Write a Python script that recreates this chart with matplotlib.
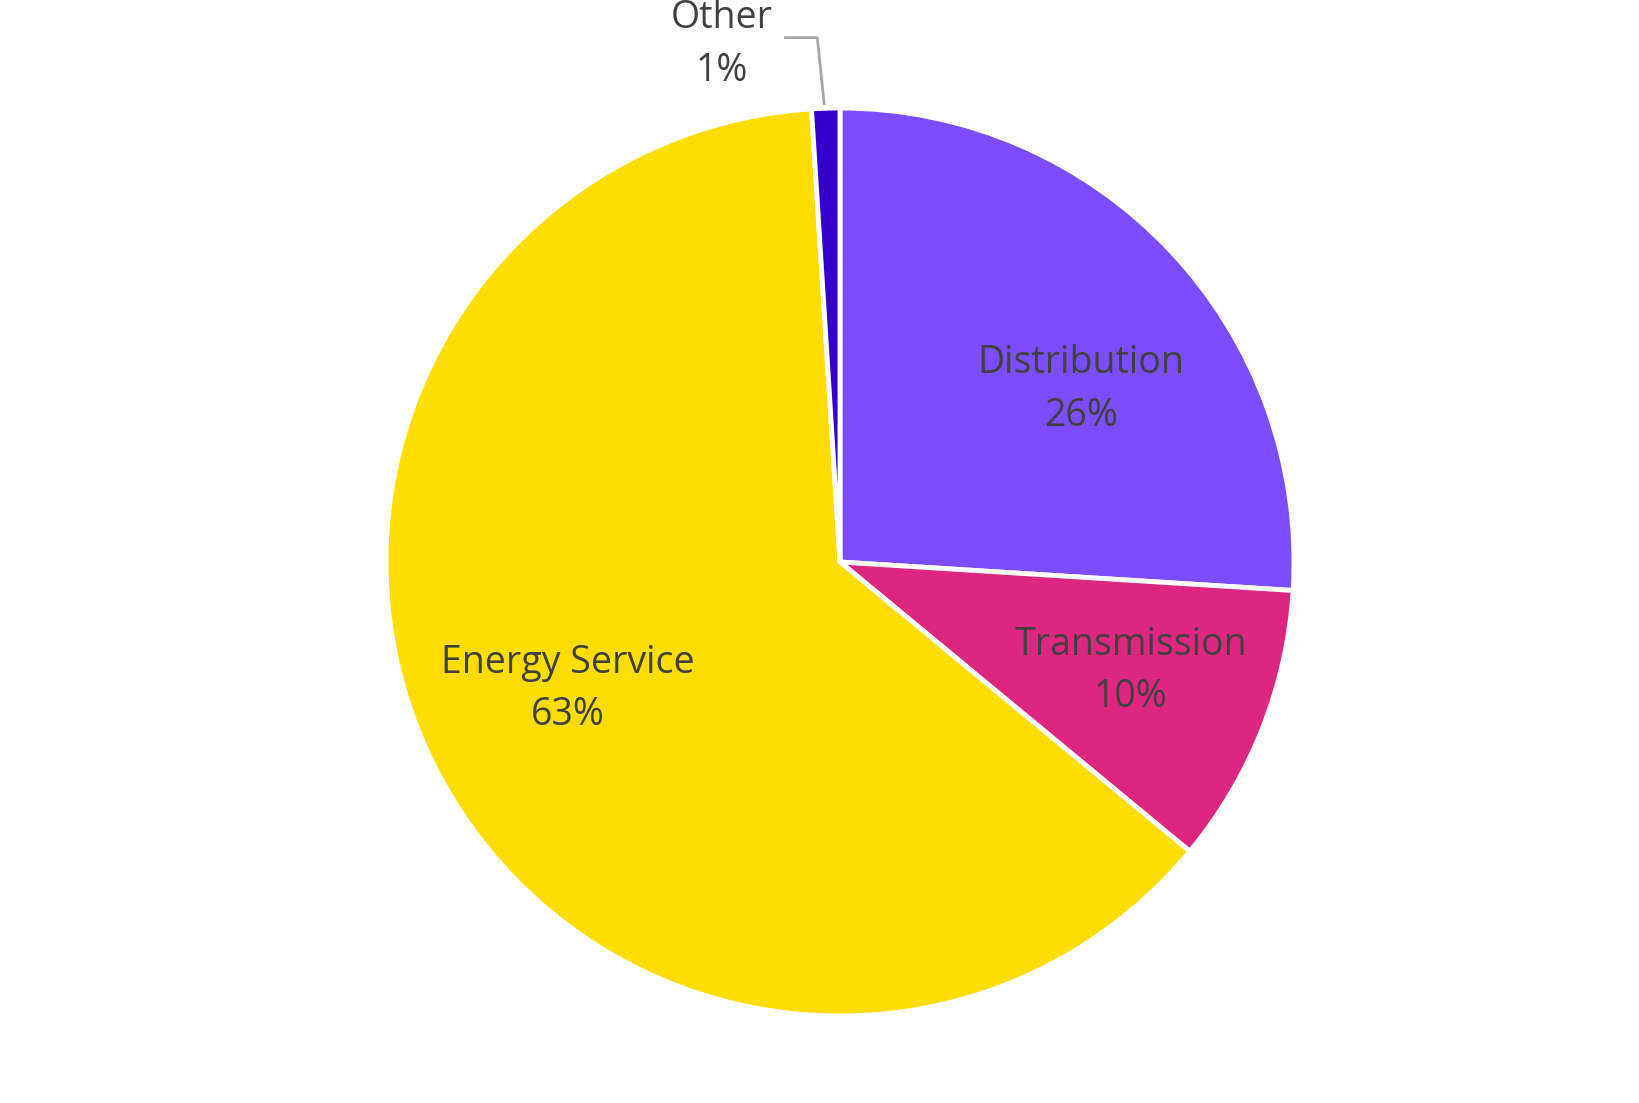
import matplotlib.pyplot as plt

categories = ["Distribution", "Transmission", "Energy Service", "Other"]
shares = [26, 10, 63, 1]
colours = ["#7C4DFF", "#DC267F", "#FFDD00", "#3300CC"]

# label positions in pie-radius units (Excel-style placement)
label_pos = [(0.53, 0.38), (0.64, -0.24), (-0.60, -0.28), (-0.26, 1.14)]

W, H = 1639, 1103
cx, cy, rad = 840, 562, 454

fig = plt.figure(figsize=(W / 100, H / 100), dpi=100)
ax = fig.add_axes([0, 0, 1, 1])
ax.pie(shares, colors=colours, startangle=90, counterclock=False, radius=1,
       wedgeprops=dict(edgecolor="white", linewidth=3.5))
ax.set_xlim(-cx / rad, (W - cx) / rad)
ax.set_ylim(-(H - cy) / rad, cy / rad)
ax.set_aspect("auto")
ax.axis("off")

for cat, val, (x, y) in zip(categories, shares, label_pos):
    ax.text(x, y, f"{cat}\n{val}%", ha="center", va="center", fontsize=27,
            color="#404040", family=["Open Sans", "DejaVu Sans"], linespacing=1.5)

# leader line for the small "Other" slice
ax.plot([-0.12, -0.05, -0.035], [1.155, 1.155, 1.01], color="#A6A6A6", lw=2)

fig.savefig("out.png", dpi=100, facecolor="white")
